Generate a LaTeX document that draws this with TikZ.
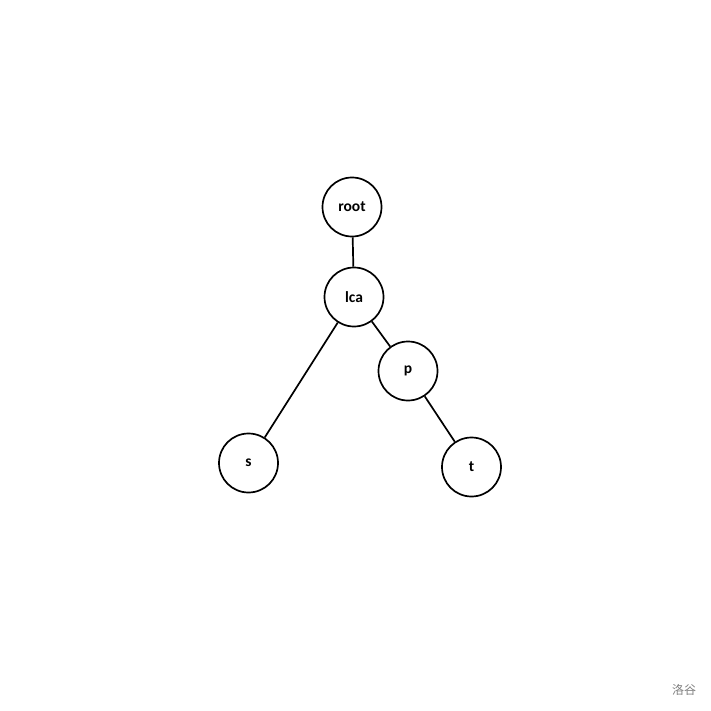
\documentclass[tikz,border=0pt]{standalone}
\usepackage{fontspec}
\setmainfont{Carlito}
\newfontfamily\cjk{Noto Sans CJK SC}
\begin{document}
\begin{tikzpicture}[x=1pt,y=-1pt,
  tnode/.style={circle,draw=black,line width=1.7pt,minimum size=59pt,inner sep=0pt,font=\bfseries\fontsize{15.5}{17}\selectfont},
  edge/.style={line width=1.7pt}]
\useasboundingbox (0,0) rectangle (711,711);
\node[tnode] (root) at (352,207) {root};
\node[tnode] (lca) at (354,297) {lca};
\node[tnode] (p) at (408,371) {p};
\node[tnode] (s) at (248.5,463) {s};
\node[tnode] (t) at (471.5,467) {t};
\draw[edge] (root) -- (lca);
\draw[edge] (lca) -- (p);
\draw[edge] (lca) -- (s);
\draw[edge] (p) -- (t);
\node[font=\cjk\fontsize{12}{14}\selectfont,text=black!50] (wm) at (684,690) {洛谷};
\end{tikzpicture}
\end{document}
